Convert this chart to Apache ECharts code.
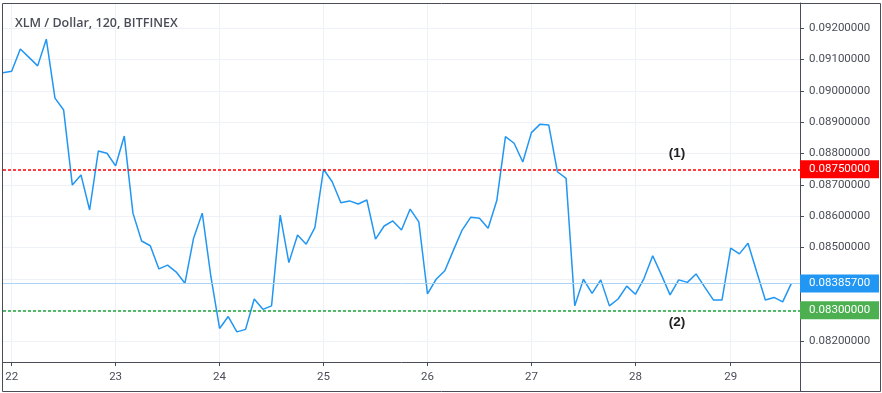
<!DOCTYPE html>
<html><head><meta charset="utf-8">
<script src="https://cdn.jsdelivr.net/npm/echarts@6/dist/echarts.min.js"></script>
<style>html,body{margin:0;padding:0;background:#fff}#c{width:882px;height:393px}</style>
</head><body><div id="c"></div>
<script>
// ---- data ----
const chartTitle = 'XLM / Dollar, 120, BITFINEX';
const barCount = 93; // 2h bars on the time axis (last slot empty)
const dayTickIndex = [1, 13, 25, 37, 49, 61, 73, 84];
const dayTickLabels = ['22', '23', '24', '25', '26', '27', '28', '29'];
const prices = [
  0.09058, 0.09063, 0.09134, 0.09107, 0.09080, 0.09165, 0.08977, 0.08939, 0.08700, 0.08732,
  0.08620, 0.08808, 0.08801, 0.08761, 0.08856, 0.08610, 0.08521, 0.08506, 0.08432, 0.08444,
  0.08422, 0.08386, 0.08530, 0.08610, 0.08407, 0.08242, 0.08280, 0.08231, 0.08239, 0.08336,
  0.08303, 0.08314, 0.08604, 0.08452, 0.08540, 0.08511, 0.08564, 0.08750, 0.08710, 0.08643,
  0.08649, 0.08639, 0.08652, 0.08527, 0.08569, 0.08585, 0.08556, 0.08623, 0.08582, 0.08352,
  0.08399, 0.08426, 0.08492, 0.08556, 0.08597, 0.08594, 0.08562, 0.08650, 0.08854, 0.08833,
  0.08773, 0.08867, 0.08894, 0.08891, 0.08742, 0.08721, 0.08314, 0.08399, 0.08354, 0.08397,
  0.08314, 0.08336, 0.08377, 0.08351, 0.08402, 0.08474, 0.08413, 0.08349, 0.08397, 0.08389,
  0.08416, 0.08374, 0.08333, 0.08333, 0.08498, 0.08480, 0.08514, 0.08423, 0.08333, 0.08341,
  0.08327, 0.083857
];
const yTickValues = [0.082, 0.083, 0.084, 0.085, 0.086, 0.087, 0.088, 0.089, 0.090, 0.091, 0.092];
const resistanceLevel = 0.0875;
const supportLevel = 0.083;
const lastPrice = 0.083857;
const yRange = [0.081349, 0.092806];
const annotationLabels = ['(1)', '(2)'];

// ---- chart ----
const categories = Array.from({length: barCount}, (_, i) => String(i));
const showTick = (idx) => dayTickIndex.indexOf(idx) >= 0;
const fmt8 = (v) => Number(v).toFixed(8);
const levels = [resistanceLevel, supportLevel, lastPrice];
// axis labels that sit under a price box are covered by it
const coveredByBox = (v) => levels.some((l) => Math.abs(l - v) < 0.0003);
const frameColor = '#4a4d57';
const gridColor = '#eef1f6';
const textColor = '#4a4d57';

function levelLabel(bg) {
  return {
    show: true, position: 'end', distance: 0,
    formatter: (p) => fmt8(p.value),
    backgroundColor: bg, color: '#ffffff',
    fontFamily: 'Roboto', fontSize: 11.5,
    width: 66, align: 'left', lineHeight: 12,
    padding: [3, 4, 3, 9]
  };
}

const chart = echarts.init(document.getElementById('c'), null, {renderer: 'canvas'});
chart.setOption({
  animation: false,
  backgroundColor: '#ffffff',
  grid: {left: 3, right: 82, top: 3, bottom: 31, containLabel: false},
  title: {
    text: chartTitle, left: 10, top: 12,
    textStyle: {fontFamily: 'Open Sans', fontSize: 12.5, fontWeight: 600, color: '#4a4d57'}
  },
  xAxis: {
    type: 'category', data: categories, boundaryGap: false,
    axisLine: {show: true, lineStyle: {color: frameColor, width: 1}},
    axisTick: {show: true, interval: (i) => showTick(i), length: 4, lineStyle: {color: frameColor}},
    axisLabel: {
      show: true, interval: (i) => showTick(i), margin: 9,
      formatter: (v, i) => dayTickLabels[dayTickIndex.indexOf(Number(v))] || '',
      fontFamily: 'Roboto', fontSize: 11.5, color: textColor
    },
    splitLine: {show: true, interval: (i) => showTick(i), lineStyle: {color: gridColor, width: 1}}
  },
  yAxis: {
    type: 'value', position: 'right', min: yRange[0], max: yRange[1], scale: true, z: 0,
    axisLine: {show: true, lineStyle: {color: frameColor, width: 1}},
    axisTick: {show: true, length: 4, customValues: yTickValues, lineStyle: {color: frameColor}},
    axisLabel: {
      show: true, customValues: yTickValues, margin: 9,
      formatter: (v) => coveredByBox(v) ? '' : fmt8(v),
      fontFamily: 'Roboto', fontSize: 11.5, color: textColor
    },
    splitLine: {show: true, lineStyle: {color: gridColor, width: 1}}
  },
  series: [{
    type: 'line', data: prices, symbol: 'none', smooth: false,
    lineStyle: {color: '#2196f3', width: 1.5},
    z: 5,
    markLine: {
      silent: true, symbol: 'none', animation: false, precision: 8, z: 20,
      data: [
        {yAxis: resistanceLevel, lineStyle: {color: '#ff0000', type: [3, 2], width: 1.5}, label: levelLabel('#ff0000')},
        {yAxis: supportLevel, lineStyle: {color: '#22a33a', type: [3, 2], width: 1.5}, label: levelLabel('#4caf50')},
        {yAxis: lastPrice, lineStyle: {color: '#a9d3f7', type: 'solid', width: 1}, label: levelLabel('#2196f3')}
      ]
    }
  }],
  graphic: [
    {type: 'rect', silent: true, z: 100, shape: {x: 2.5, y: 3.5, width: 878, height: 388},
     style: {fill: null, stroke: frameColor, lineWidth: 1}},
    {type: 'line', silent: true, z: 100, shape: {x1: 800.5, y1: 362, x2: 800.5, y2: 391},
     style: {stroke: frameColor, lineWidth: 1}},
    {type: 'line', silent: true, z: 100, shape: {x1: 800, y1: 362.5, x2: 880, y2: 362.5},
     style: {stroke: frameColor, lineWidth: 1}},
    {type: 'text', silent: true, z: 100, x: 677, y: 153,
     style: {text: annotationLabels[0], fill: '#222222', font: 'bold 13.5px "Liberation Sans"', textAlign: 'center', textVerticalAlign: 'middle'}},
    {type: 'text', silent: true, z: 100, x: 677, y: 322,
     style: {text: annotationLabels[1], fill: '#222222', font: 'bold 13.5px "Liberation Sans"', textAlign: 'center', textVerticalAlign: 'middle'}}
  ]
});
</script>
</body></html>
